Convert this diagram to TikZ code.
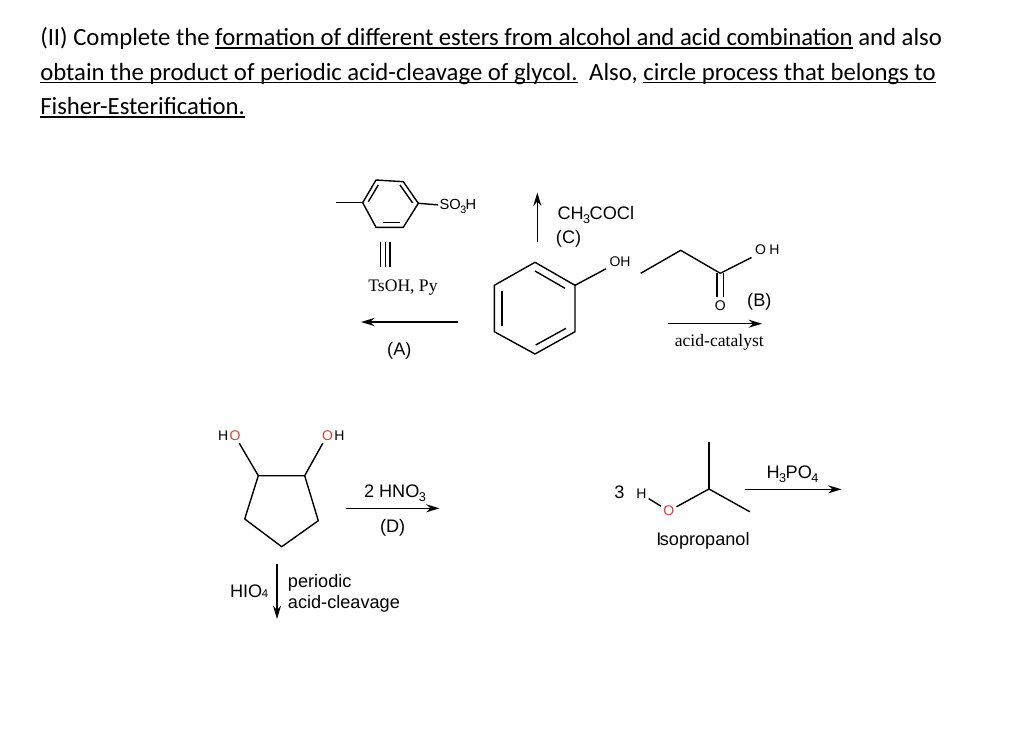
\documentclass[tikz,border=0pt]{standalone}
\usepackage{fontspec}
\usepackage{xcolor}
\setmainfont{Liberation Sans}
\newfontfamily\bodyfont{Carlito}
\newfontfamily\timesfont{Liberation Serif}
\usetikzlibrary{arrows.meta, positioning}
\definecolor{atomred}{RGB}{225,60,50}
\newcommand{\ulbar}[1]{\setbox0\hbox{#1}\rlap{\rule[-2.4pt]{\wd0}{1.1pt}}\box0\relax}
\newcommand{\lowthree}[1]{\hspace{-0.4pt}\raisebox{-3.2pt}{\fontsize{9.5}{9.5}\selectfont #1}\hspace{-0.4pt}}
\tikzstyle{heading} = [anchor=base west, inner sep=0pt, font=\bodyfont\fontsize{18.55}{20}\selectfont]
\tikzstyle{chemtext} = [inner sep=0pt, font=\fontsize{13.6}{15}\selectfont]
\tikzstyle{serif} = [inner sep=0pt, font=\timesfont\fontsize{13.2}{15}\selectfont]
\tikzstyle{atom} = [inner sep=2.5pt, font=\fontsize{10.5}{12}\selectfont]
\tikzstyle{bond} = [line width=1.05pt, line join=round]
\tikzstyle{arrow} = [line width=1.05pt, -{Stealth[length=10pt,width=6pt]}]

\begin{document}
\begin{tikzpicture}[x=0.75pt, y=-0.75pt]
\useasboundingbox (0,0) rectangle (1024,739);

% Heading
\node (line-one) [heading] at (40,45.7) {(II) Complete the \ulbar{formation of different esters from alcohol and acid combination} and also};
\node (line-two) [heading] at (40,80) {\ulbar{obtain the product of periodic acid-cleavage of glycol.}\hspace{0.25em} Also, \ulbar{circle process that belongs to}};
\node (line-three) [heading] at (40,114.3) {\ulbar{Fisher-Esterification.}};

% Tosic acid
\coordinate (ts-a) at (362.7,202.7);
\coordinate (ts-b) at (376,180);
\coordinate (ts-c) at (403.3,181.7);
\coordinate (ts-d) at (418.3,203.3);
\coordinate (ts-e) at (403.3,227.3);
\coordinate (ts-f) at (376,227.3);
\coordinate (ts-methyl) at (336,202.7);
\node (ts-so3h) [atom, inner sep=1pt, font=\fontsize{11}{12}\selectfont] at (458,206.5) {SO\lowthree{\fontsize{8}{8}\selectfont 3}H};
\draw [bond] (ts-a) -- (ts-b) -- (ts-c) -- (ts-d) -- (ts-e) -- (ts-f) -- cycle;
\draw [bond] (ts-methyl) -- (ts-a);
\draw [bond] (ts-d) -- (ts-so3h);
\draw [bond] (368.3,201.7) -- (378.3,185);
\draw [bond] (400,185) -- (412.7,203);
\draw [bond] (383.3,222.3) -- (400,222.3);

% Equals bars
\coordinate (bar-a) at (380.7,241.7);
\coordinate (bar-b) at (385.3,241.7);
\coordinate (bar-c) at (390,241.7);
\draw [bond] (bar-a) -- ++(0,25.6);
\draw [bond] (bar-b) -- ++(0,25.6);
\draw [bond] (bar-c) -- ++(0,25.6);
\node (tsoh) [serif] at (403,288) {TsOH, Py};

% Arrow A
\coordinate (arrow-a-start) at (458,322);
\coordinate (arrow-a-end) at (361,322);
\draw [arrow, line width=1.4pt] (arrow-a-start) -- (arrow-a-end);
\node (label-a) [chemtext] at (399.3,351) {(A)};

% Arrow C
\coordinate (arrow-c-start) at (537.3,242.3);
\coordinate (arrow-c-end) at (537.3,192.5);
\draw [arrow] (arrow-c-start) -- (arrow-c-end);
\node (reagent-c) [chemtext, anchor=west] at (557.3,215) {CH\lowthree{3}COCl};
\node (label-c) [chemtext, anchor=west] at (555.7,238.5) {(C)};

% Phenol
\coordinate (ph-a) at (535,262.3);
\coordinate (ph-b) at (575,285.3);
\coordinate (ph-c) at (575,331.7);
\coordinate (ph-d) at (535,354);
\coordinate (ph-e) at (494.3,331.7);
\coordinate (ph-f) at (494.3,285.3);
\node (ph-oh) [atom] at (620,261.3) {OH};
\draw [bond] (ph-a) -- (ph-b) -- (ph-c) -- (ph-d) -- (ph-e) -- (ph-f) -- cycle;
\draw [bond] (535,271) -- (565,288.3);
\draw [bond] (502,290.7) -- (502,325.7);
\draw [bond] (535.7,345) -- (566,328.3);
\draw [bond] (ph-b) -- (ph-oh);

% Propanoic acid
\coordinate (pa-a) at (640.7,273.3);
\coordinate (pa-b) at (680.7,250.3);
\coordinate (pa-c) at (720.3,273.3);
\node (pa-oh) [atom] at (767.3,249.5) {O\hspace{2.5pt}H};
\node (pa-o) [atom] at (720.3,306) {O};
\draw [bond] (pa-a) -- (pa-b) -- (pa-c);
\draw [bond] (pa-c) -- (pa-oh);
\draw [bond] ([xshift=-2.4pt]pa-c) -- ([xshift=-2.4pt]pa-o.north);
\draw [bond] ([xshift=2.4pt]pa-c) -- ([xshift=2.4pt]pa-o.north);
\node (label-b) [chemtext] at (759.3,301.5) {(B)};

% Arrow B
\coordinate (arrow-b-start) at (668.3,323.7);
\coordinate (arrow-b-end) at (762,323.7);
\draw [arrow] (arrow-b-start) -- (arrow-b-end);
\node (acid-catalyst) [serif] at (719.3,342) {acid-catalyst};

% Glycol
\coordinate (cp-a) at (258.3,475.7);
\coordinate (cp-b) at (304.7,475.7);
\coordinate (cp-c) at (318.3,520.7);
\coordinate (cp-d) at (281.7,546.7);
\coordinate (cp-e) at (244.7,519);
\node (cp-ho) [atom, anchor=east] at (244,435.5) {H\hspace{1pt}{\color{atomred}O}};
\node (cp-oh) [atom, anchor=west] at (318.5,435.5) {{\color{atomred}O}\hspace{1pt}H};
\draw [bond] (cp-a) -- (cp-b) -- (cp-c) -- (cp-d) -- (cp-e) -- cycle;
\draw [bond] (cp-a) -- (239.3,443.3);
\draw [bond] (cp-b) -- (322.7,443.3);

% Arrow D
\coordinate (arrow-d-start) at (345.7,508.3);
\coordinate (arrow-d-end) at (439.5,508.3);
\draw [arrow] (arrow-d-start) -- (arrow-d-end);
\node (reagent-d) [chemtext] at (395,493) {2 HNO\lowthree{3}};
\node (label-d) [chemtext] at (392.7,527.8) {(D)};

% Cleavage
\coordinate (arrow-hio-start) at (277,564.3);
\coordinate (arrow-hio-end) at (277,619);
\draw [arrow] (arrow-hio-start) -- (arrow-hio-end);
\node (hio) [chemtext, anchor=east] at (268.5,591) {HIO\hspace{-0.3pt}\raisebox{-0.5pt}{\fontsize{8.5}{9}\selectfont 4}};
\node (periodic) [chemtext, anchor=west] at (287.7,582.5) {periodic};
\node (cleavage) [chemtext, anchor=west] at (287.7,604) {acid-cleavage};

% Isopropanol
\node (three) [chemtext] at (619.3,492.7) {3};
\node (ip-h) [atom, inner sep=1.5pt] at (641.3,494) {H};
\node (ip-o) [atom, inner sep=1.5pt, text=atomred] at (668.7,511) {O};
\coordinate (ip-c) at (709,489);
\coordinate (ip-top) at (709,442.3);
\coordinate (ip-right) at (749.7,511.7);
\draw [bond] (ip-h) -- (ip-o);
\draw [bond] (ip-o) -- (ip-c);
\draw [bond] (ip-c) -- (ip-top);
\draw [bond] (ip-c) -- (ip-right);
\node (isopropanol) [chemtext] at (703,541) {I\hspace{-1.2pt}sopropanol};

% Arrow phosphoric
\coordinate (arrow-p-start) at (744.7,489.3);
\coordinate (arrow-p-end) at (841.5,489.3);
\draw [arrow] (arrow-p-start) -- (arrow-p-end);
\node (reagent-p) [chemtext] at (792.5,474) {H\lowthree{3}PO\lowthree{4}};

\end{tikzpicture}
\end{document}
